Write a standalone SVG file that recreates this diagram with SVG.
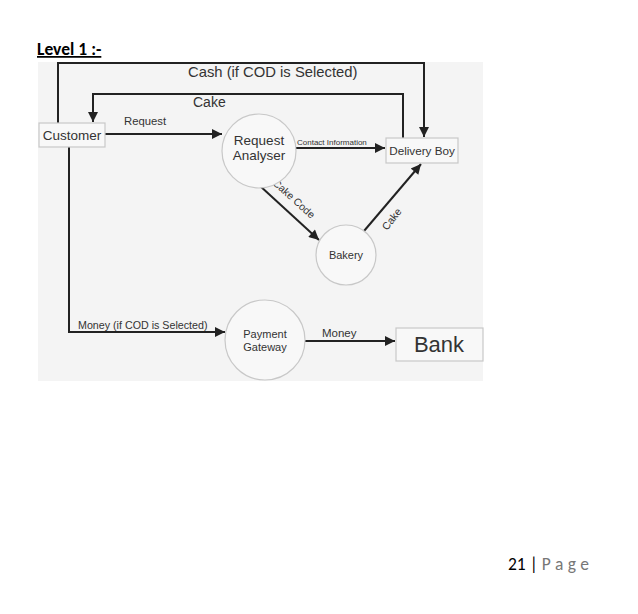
<svg xmlns="http://www.w3.org/2000/svg" width="638" height="614" viewBox="0 0 638 614">
<style>
.t{font-family:"Liberation Sans",Arial,sans-serif;fill:#333}
.ln{fill:none;stroke:#222;stroke-width:2}
.box{fill:#f8f8f8;stroke:#c8c8c8;stroke-width:1.2}
.circ{fill:#f8f8f8;stroke:#c8c8c8;stroke-width:1.2}
</style>
<defs>
<marker id="ahb" viewBox="0 0 10 10" refX="10" refY="5" markerWidth="13" markerHeight="10" orient="auto" markerUnits="userSpaceOnUse">
<path d="M0,0 L10,5 L0,10 z" fill="#222"/>
</marker>
</defs>
<rect width="638" height="614" fill="#fff"/>
<text x="37" y="55" font-family="Carlito,'Liberation Sans',sans-serif" font-weight="bold" font-size="17.5" fill="#000" text-decoration="underline">Level 1 :-</text>
<rect x="38" y="62" width="445" height="319" fill="#f4f4f4"/>
<g id="connectors">
<path class="ln" d="M58,123 V63 H424 V137" marker-end="url(#ahb)"/>
<path class="ln" d="M403,138 V94 H93 V122" marker-end="url(#ahb)"/>
<path class="ln" d="M105,134 H222" marker-end="url(#ahb)"/>
<path class="ln" d="M296,148 H385" marker-end="url(#ahb)"/>
<path class="ln" d="M259,185 L319,240" marker-end="url(#ahb)"/>
<path class="ln" d="M364,231 L421,164" marker-end="url(#ahb)"/>
<path class="ln" d="M69,147 V332 H225" marker-end="url(#ahb)"/>
<path class="ln" d="M305,341 H395" marker-end="url(#ahb)"/>
<text class="t" x="188" y="77" font-size="14.8">Cash (if COD is Selected)</text>
<text class="t" x="193" y="107" font-size="14">Cake</text>
<text class="t" x="124" y="125" font-size="11.3">Request</text>
<text class="t" x="297" y="145" font-size="8">Contact Information</text>
<text class="t" x="0" y="0" font-size="10.5" transform="translate(272,184) rotate(42)">Cake Code</text>
<text class="t" x="0" y="0" font-size="10.5" transform="translate(387,231) rotate(-52)">Cake</text>
<text class="t" x="78" y="329" font-size="10.7">Money (if COD is Selected)</text>
<text class="t" x="322" y="337" font-size="11.5">Money</text>
</g>
<g id="customer">
<rect class="box" x="39" y="123" width="66" height="24"/>
<text class="t" x="72" y="140" font-size="13.5" text-anchor="middle">Customer</text>
</g>
<g id="request-analyser">
<circle class="circ" cx="259" cy="151" r="37"/>
<text class="t" x="259" y="145" font-size="13.5" text-anchor="middle">Request</text>
<text class="t" x="259" y="160" font-size="13.5" text-anchor="middle">Analyser</text>
</g>
<g id="delivery-boy">
<rect class="box" x="386" y="138" width="72" height="25"/>
<text class="t" x="422" y="155" font-size="11.7" text-anchor="middle">Delivery Boy</text>
</g>
<g id="bakery">
<circle class="circ" cx="346" cy="255" r="30"/>
<text class="t" x="346" y="259" font-size="11" text-anchor="middle">Bakery</text>
</g>
<g id="payment-gateway">
<circle class="circ" cx="265" cy="340" r="40"/>
<text class="t" x="265" y="338" font-size="11" text-anchor="middle">Payment</text>
<text class="t" x="265" y="351" font-size="11" text-anchor="middle">Gateway</text>
</g>
<g id="bank">
<rect class="box" x="396" y="328" width="87" height="33"/>
<text class="t" x="439" y="352" font-size="22" text-anchor="middle" fill="#222">Bank</text>
</g>
<text x="508" y="570" font-family="Carlito,'Liberation Sans',sans-serif" font-size="17.5" fill="#000">21 | <tspan fill="#777" letter-spacing="4.5">Page</tspan></text>
</svg>
